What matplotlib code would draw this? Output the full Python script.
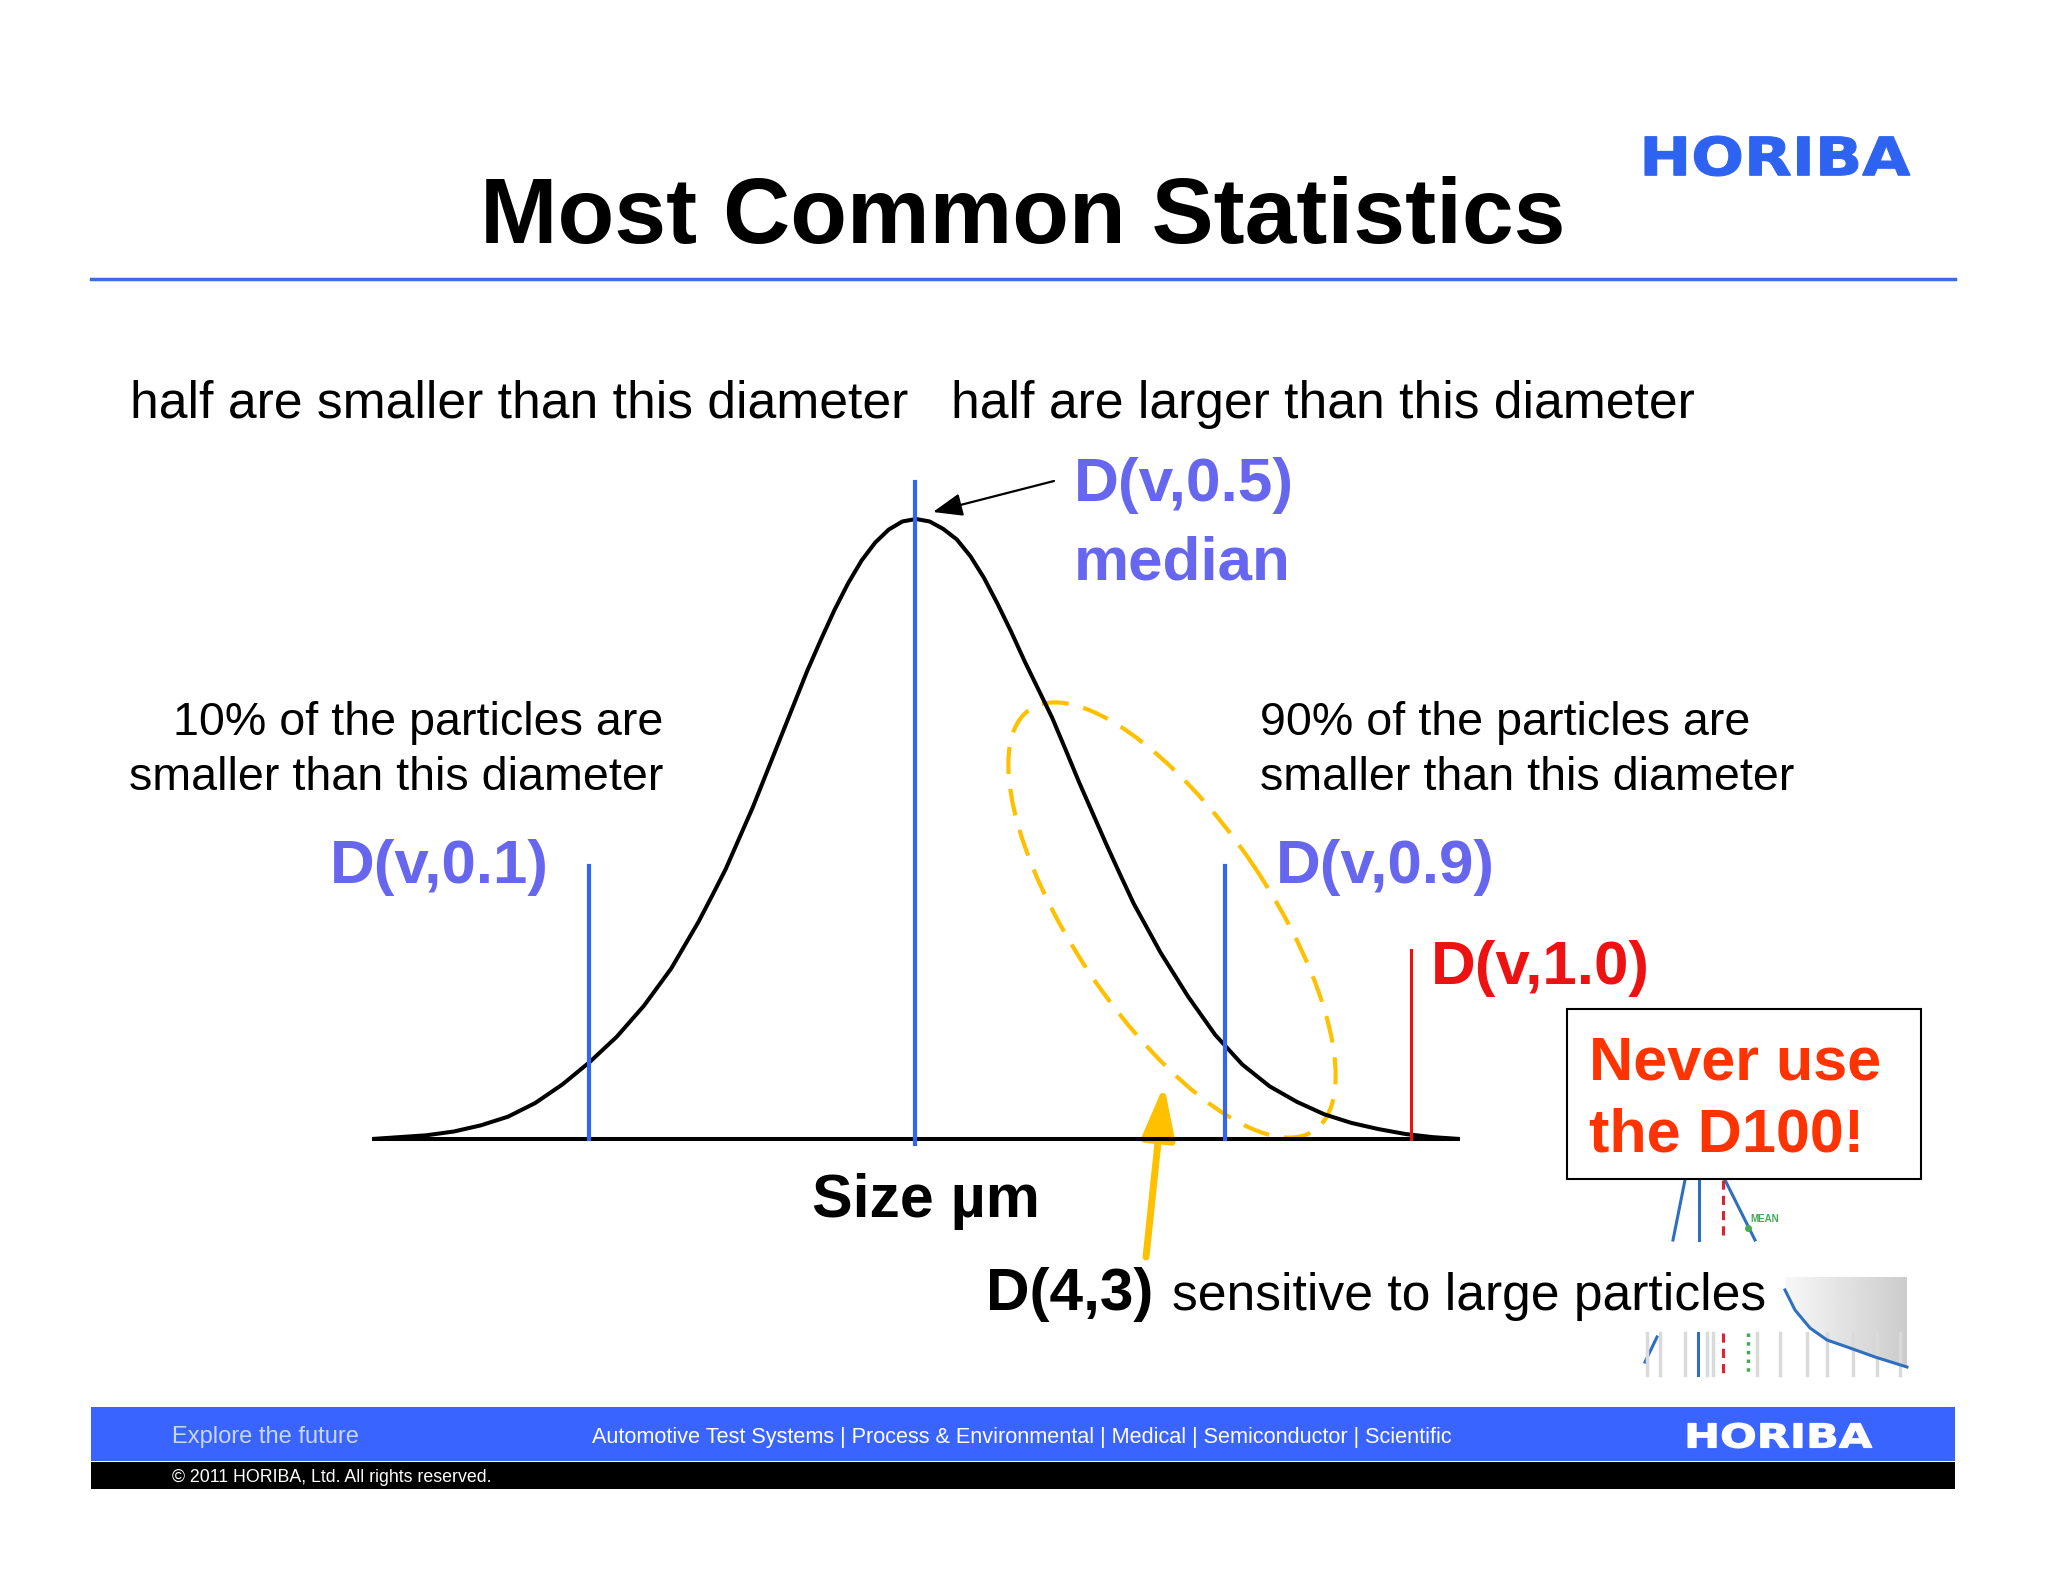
import numpy as np
import matplotlib.pyplot as plt
from matplotlib.patches import Ellipse, Rectangle, PathPatch, Polygon
from matplotlib.textpath import TextPath
from matplotlib.font_manager import FontProperties
from matplotlib.transforms import Affine2D

plt.rcParams['font.family'] = ['Liberation Sans', 'DejaVu Sans']

# distribution (size in % of axis, volume in % of peak)
size_um = [0, 2.5, 5, 7.5, 10, 12.5, 15, 17.5, 20, 22.5, 25, 27.5,
           30, 31.25, 32.5, 33.75, 35, 36.25, 37.5, 38.75, 40, 41.25, 42.5,
           43.75, 45, 46.25, 47.5, 48.75, 50, 51.25, 52.5, 53.75, 55, 56.25,
           57.5, 58.75, 60, 61.25, 62.5, 63.75, 65, 66.25, 67.5, 68.75, 70,
           72.5, 75, 77.5, 80, 82.5, 85, 87.5, 90, 92.5, 95, 97.5, 100]
volume = [0, 0.3, 0.6, 1.2, 2.2, 3.6, 5.8, 8.8, 12.4, 16.5, 21.5, 27.5,
          35.0, 39.2, 43.5, 48.5, 53.5, 59.0, 64.5, 70.0, 75.5, 80.5, 85.3,
          89.6, 93.3, 96.2, 98.3, 99.6, 100, 99.6, 98.4, 96.7, 94.0, 90.5,
          86.3, 81.8, 77.0, 72.5, 68.0, 62.8, 57.5, 52.5, 47.5, 42.7, 38.0,
          30.0, 23.0, 16.8, 12.0, 8.5, 6.0, 4.0, 2.6, 1.6, 0.8, 0.3, 0]

stat_names = ['D(v,0.1)', 'D(v,0.5)', 'D(v,0.9)', 'D(v,1.0)']
stat_sizes = [19.9, 49.9, 78.4, 95.5]
stat_tops = [44, 106, 44, 30.5]

blue = '#3366ee'
lilac = '#6666ee'
red = '#ee1111'
orange = '#ff3300'
yellow = '#ffc000'

fig = plt.figure(figsize=(20.48, 15.82), dpi=100)

# overlay in slide pixels for text and decorations
deco = fig.add_axes([0, 0, 1, 1])
deco.set_xlim(0, 2048)
deco.set_ylim(1582, 0)
deco.axis('off')


def logo(x0, x1, y_top, y_base, color):
    # bold wordmark squeezed into the box it fills on the slide
    tp = TextPath((0, 0), 'HORIBA', size=100,
                  prop=FontProperties(family='DejaVu Sans', weight='bold'))
    ext = tp.get_extents()
    sx = (x1 - x0) / ext.width
    sy = (y_base - y_top) / ext.height
    tr = Affine2D().translate(-ext.x0, -ext.y0).scale(sx, -sy).translate(x0, y_base)
    deco.add_patch(PathPatch(tr.transform_path(tp), fc=color, ec=color, lw=0.8, zorder=8))


# chart
ax = fig.add_axes([372 / 2048, 0.26043, 1088 / 2048, 0.4507])
ax.set_xlim(0, 100)
ax.set_ylim(-5, 110)
ax.axis('off')
ax.patch.set_alpha(0)

ax.plot(size_um, volume, color='black', lw=2.9, solid_joinstyle='round', zorder=3)
ax.plot([size_um[0], size_um[-1]], [0, 0], color='black', lw=2.9, zorder=3)
line_cols = [blue, blue, blue, red]
for s, top, c in zip(stat_sizes, stat_tops, line_cols):
    bottom = -0.8 if top > 100 else 0
    ax.plot([s, s], [bottom, top], color=c, lw=3 if c == blue else 2.2, zorder=4)

# title
deco.text(1023, 243, 'Most Common Statistics', fontsize=67, fontweight='bold',
          ha='center', va='baseline')
deco.plot([91, 1955], [279, 279], color='#3d6ae6', lw=2.5)
logo(1645, 1910, 136, 176, '#2e63f2')

deco.text(130, 418, 'half are smaller than this diameter', fontsize=37.2, va='baseline')
deco.text(951, 418, 'half are larger than this diameter', fontsize=37.2, va='baseline')

# stat labels
deco.text(1074, 501, stat_names[1], fontsize=44.8, fontweight='bold', color=lilac, va='baseline')
deco.text(1074, 579, 'median', fontsize=44.6, fontweight='bold', color=lilac, va='baseline')
deco.annotate('', xy=(933, 512), xytext=(1054, 481),
              arrowprops=dict(arrowstyle='-|>,head_length=0.9,head_width=0.35',
                              mutation_scale=20, lw=1.6, color='black',
                              shrinkA=0, shrinkB=0))

deco.text(663, 735, '10% of the particles are', fontsize=33.6, ha='right', va='baseline')
deco.text(663, 790, 'smaller than this diameter', fontsize=33.6, ha='right', va='baseline')
deco.text(330, 883, stat_names[0], fontsize=44.6, fontweight='bold', color=lilac, va='baseline')

deco.text(1260, 735, '90% of the particles are', fontsize=33.6, va='baseline')
deco.text(1260, 790, 'smaller than this diameter', fontsize=33.6, va='baseline')
deco.text(1276, 883, stat_names[2], fontsize=44.6, fontweight='bold', color=lilac, va='baseline')

deco.text(1431, 984, stat_names[3], fontsize=44.6, fontweight='bold', color=red, va='baseline')

# D(4,3) ellipse + arrow
deco.add_patch(Ellipse((1172, 920), 508, 196, angle=56, fill=False, ec=yellow,
                       lw=3, ls=(0, (6.5, 3.6)), zorder=5))
deco.annotate('', xy=(1164, 1085), xytext=(1146, 1257),
              arrowprops=dict(arrowstyle='-|>,head_length=1.6,head_width=0.5',
                              mutation_scale=20, lw=5, color=yellow,
                              shrinkA=0, shrinkB=0))

deco.text(926, 1217, 'Size µm', fontsize=43.8, fontweight='bold', ha='center', va='baseline')
deco.text(986, 1310, 'D(4,3)', fontsize=43.5, fontweight='bold', va='baseline')
deco.text(1172, 1310, 'sensitive to large particles', fontsize=37.2, va='baseline')

# faded picture fragments behind the box
for x0, y0, x1, y1 in [(1685, 1180, 1673, 1240), (1699, 1180, 1699, 1240),
                       (1725, 1180, 1755, 1240), (1657, 1337, 1645, 1362)]:
    deco.plot([x0, x1], [y0, y1], color='#2f6fc0', lw=2.2)
deco.plot([1723, 1723], [1180, 1240], color='#dd2233', lw=2.2, ls=(0, (3, 2)))
deco.plot([1748], [1228], 'o', color='#44aa55', ms=4)
deco.text(1750, 1222, 'MEAN', fontsize=7, color='#44aa55', fontweight='bold')
for xb in [1647, 1660, 1685, 1707, 1713, 1757, 1780, 1807, 1827, 1853, 1877, 1900]:
    deco.plot([xb, xb], [1333, 1375], color='#dadada', lw=2.5)
deco.plot([1698, 1698], [1333, 1375], color='#2f6fc0', lw=2.2)
deco.plot([1723, 1723], [1333, 1375], color='#dd2233', lw=2.2, ls=(0, (3, 2)))
deco.plot([1748, 1748], [1333, 1375], color='#44aa55', lw=2.5, ls=(0, (1, 1.5)))
gx = [1785, 1795, 1810, 1827, 1850, 1875, 1907]
gy = [1290, 1310, 1328, 1340, 1348, 1357, 1367]
shade = Polygon(list(zip(gx, gy)) + [(1907, 1277), (1785, 1277)], closed=True,
                fc='none', ec='none')
deco.add_patch(shade)
grad = np.linspace(0.97, 0.8, 64)[None, :]
img = deco.imshow(grad, cmap='gray', vmin=0, vmax=1, extent=(1785, 1907, 1367, 1277),
                  aspect='auto', interpolation='bilinear', zorder=1)
img.set_clip_path(shade)
deco.plot(gx, gy, color='#2f6fc0', lw=2.2, zorder=2)
deco.set_xlim(0, 2048)
deco.set_ylim(1582, 0)

# warning box
deco.add_patch(Rectangle((1567, 1009), 354, 170, fill=True, fc='white', ec='black',
                         lw=1.5, zorder=6))
deco.text(1589, 1080, 'Never use', fontsize=44, fontweight='bold', color=orange,
          va='baseline', zorder=7)
deco.text(1589, 1152, 'the D100!', fontsize=44, fontweight='bold', color=orange,
          va='baseline', zorder=7)

# footer
deco.add_patch(Rectangle((91, 1407), 1864, 54, fc='#3a64ff', ec='none'))
deco.add_patch(Rectangle((91, 1462), 1864, 27, fc='black', ec='none'))
deco.text(172, 1443, 'Explore the future', fontsize=17, color='#c9d6ff', va='baseline')
deco.text(592, 1443, 'Automotive Test Systems | Process & Environmental | Medical | '
          'Semiconductor | Scientific', fontsize=15.6, color='white', va='baseline')
logo(1688, 1872, 1423, 1448, 'white')
deco.text(172, 1482, '© 2011 HORIBA, Ltd. All rights reserved.', fontsize=12.8,
          color='white', va='baseline')

fig.savefig('out.png', dpi=100)
